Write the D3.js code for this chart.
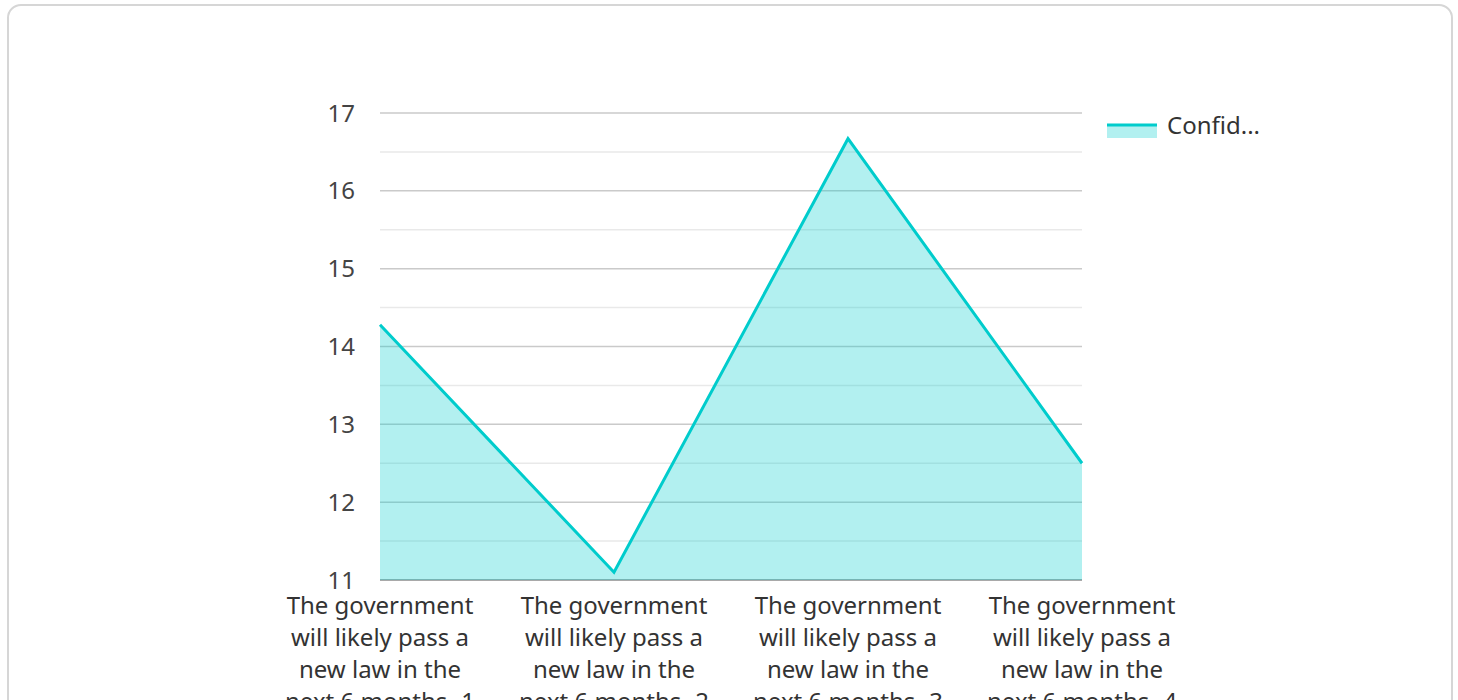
<!DOCTYPE html>
<html>
<head>
<meta charset="utf-8">
<script src="https://cdn.jsdelivr.net/npm/d3@7"></script>
<style>
    body {
        margin: 0;
        background: #fff;
        font-family: "Noto Sans", sans-serif;
        overflow: hidden;
    }
    #card {
        position: absolute;
        left: 7px;
        top: 4px;
        width: 1446px;
        height: 760px;
        border: 2px solid #d6d6d6;
        border-radius: 14px;
        box-sizing: border-box;
    }
    svg {
        position: absolute;
        left: 0;
        top: 0;
    }
</style>
</head>
<body>
<div id="card"></div>
<svg id="chart" width="1458" height="700"></svg>

<script>
    const categories = [
        "The government will likely pass a new law in the next 6 months -1",
        "The government will likely pass a new law in the next 6 months -2",
        "The government will likely pass a new law in the next 6 months -3",
        "The government will likely pass a new law in the next 6 months -4"
    ];
    const confidence = [14.28, 11.1, 16.67, 12.5];
    const yTicks = [11, 12, 13, 14, 15, 16, 17];
    const minorTicks = [11.5, 12.5, 13.5, 14.5, 15.5, 16.5];
    const seriesName = "Confid...";

    (function () {
        const svg = d3.select("#chart");
        const plotLeft = 380, plotRight = 1082, plotTop = 113, plotBottom = 580;
        const fontSize = "24px";

        const x = d3.scalePoint()
            .domain(categories)
            .range([plotLeft, plotRight]);

        const y = d3.scaleLinear()
            .domain([11, 17])
            .range([plotBottom, plotTop]);

        // grid
        svg.append("g")
            .selectAll("line")
            .data(minorTicks)
            .enter()
            .append("line")
            .attr("x1", plotLeft)
            .attr("x2", plotRight)
            .attr("y1", d => y(d))
            .attr("y2", d => y(d))
            .style("stroke", "#e9e9e9")
            .style("stroke-width", 1.5);

        svg.append("g")
            .selectAll("line")
            .data(yTicks)
            .enter()
            .append("line")
            .attr("x1", plotLeft)
            .attr("x2", plotRight)
            .attr("y1", d => y(d))
            .attr("y2", d => y(d))
            .style("stroke", d => d === 11 ? "#a9a9a9" : "#cacaca")
            .style("stroke-width", d => d === 11 ? 2 : 1.5);

        // y labels
        svg.append("g")
            .selectAll("text")
            .data(yTicks)
            .enter()
            .append("text")
            .attr("x", 355)
            .attr("y", d => y(d))
            .attr("dy", "0.36em")
            .attr("text-anchor", "end")
            .style("font-size", fontSize)
            .style("fill", "#444")
            .text(d => d);

        // area + line
        const area = d3.area()
            .x((d, i) => x(categories[i]))
            .y0(y(11))
            .y1(d => y(d));

        const line = d3.line()
            .x((d, i) => x(categories[i]))
            .y(d => y(d));

        svg.append("path")
            .datum(confidence)
            .attr("d", area)
            .style("fill", "#00cccc")
            .style("fill-opacity", 0.3);

        svg.append("path")
            .datum(confidence)
            .attr("d", line)
            .style("fill", "none")
            .style("stroke", "#00cccc")
            .style("stroke-width", 3);

        // x labels, wrapped
        const wrapWidth = 205;
        const measure = svg.append("text").style("font-size", fontSize);
        const wrap = function (str) {
            const words = str.split(" ");
            const lines = [];
            let cur = "";
            words.forEach(function (w) {
                const test = cur ? cur + " " + w : w;
                measure.text(test);
                if (measure.node().getComputedTextLength() > wrapWidth && cur) {
                    lines.push(cur);
                    cur = w;
                } else {
                    cur = test;
                }
            });
            lines.push(cur);
            return lines;
        };

        const xLabels = svg.append("g")
            .selectAll("text")
            .data(categories)
            .enter()
            .append("text")
            .attr("x", d => x(d))
            .attr("y", 614)
            .attr("text-anchor", "middle")
            .style("font-size", fontSize)
            .style("fill", "#333");

        xLabels.each(function (d) {
            const t = d3.select(this);
            wrap(d).forEach(function (l, i) {
                t.append("tspan")
                    .attr("x", x(d))
                    .attr("dy", i === 0 ? 0 : 32)
                    .text(l);
            });
        });
        measure.remove();

        // legend
        const legend = svg.append("g").attr("transform", "translate(1107,125)");
        legend.append("rect")
            .attr("x", 0)
            .attr("y", 0)
            .attr("width", 50)
            .attr("height", 13)
            .style("fill", "#00cccc")
            .style("fill-opacity", 0.3);
        legend.append("line")
            .attr("x1", 0)
            .attr("x2", 50)
            .attr("y1", 0)
            .attr("y2", 0)
            .style("stroke", "#00cccc")
            .style("stroke-width", 3);
        legend.append("text")
            .attr("x", 60)
            .attr("y", 9)
            .style("font-size", fontSize)
            .style("fill", "#333")
            .text(seriesName);
    })();
</script>
</body>
</html>
